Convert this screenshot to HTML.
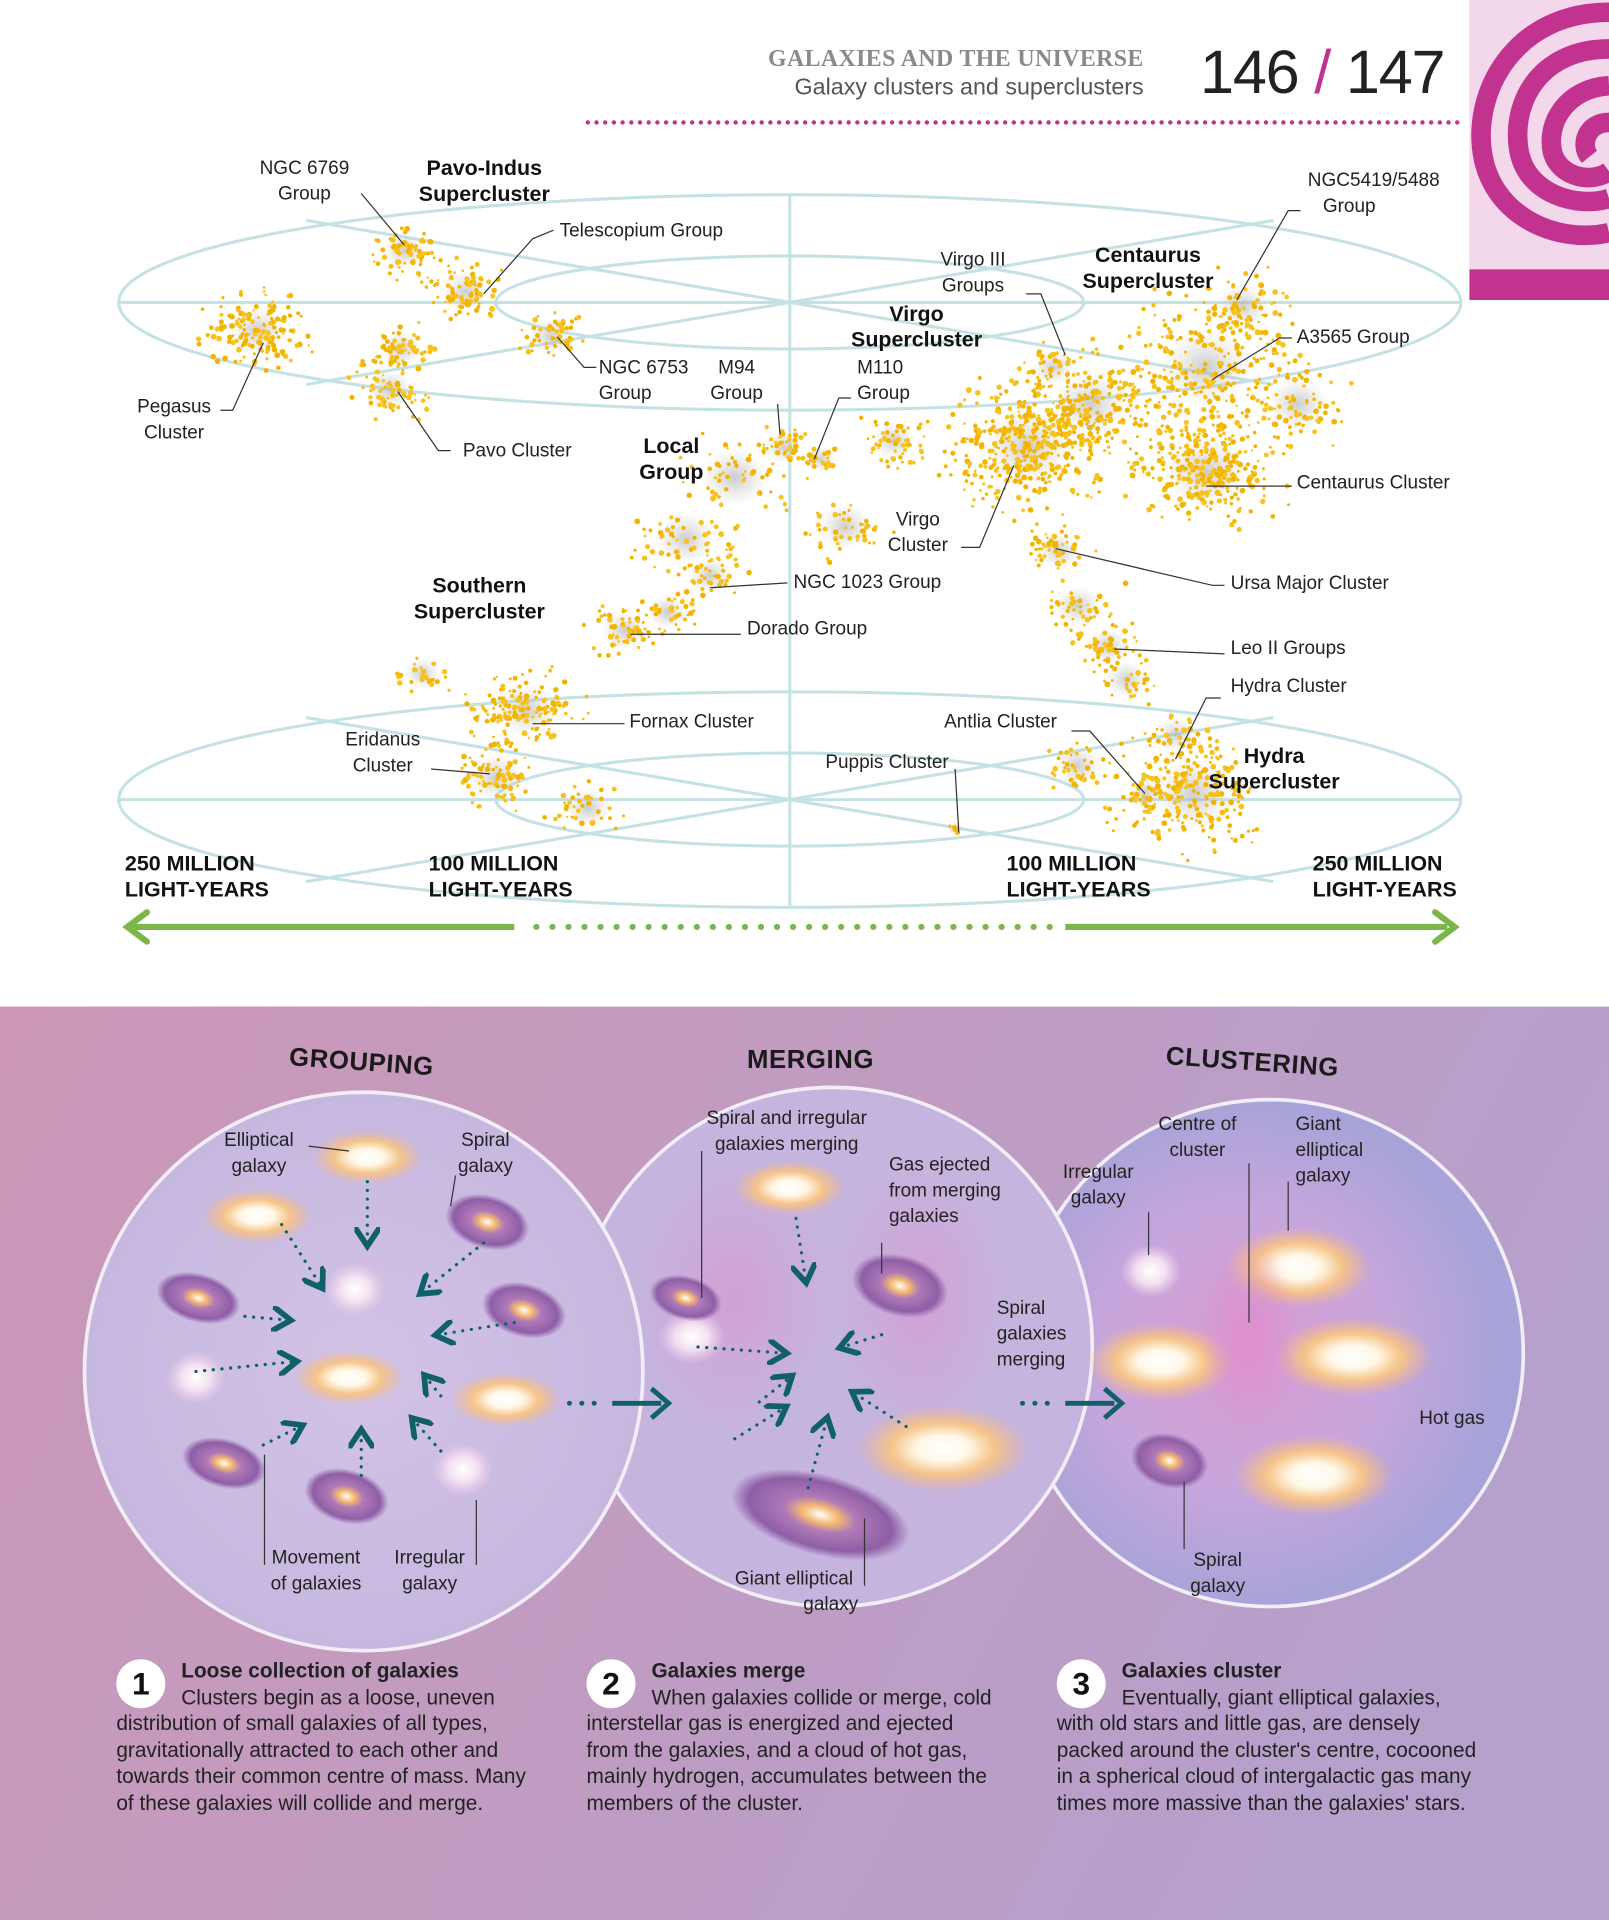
<!DOCTYPE html>
<html><head><meta charset="utf-8">
<style>
html,body{margin:0;padding:0;background:#fff;}
body{width:1609px;height:1920px;overflow:hidden;}
#wrap{position:absolute;left:0;top:0;width:1314px;height:1568px;transform:scale(1.22451);transform-origin:0 0;font-family:"Liberation Sans",sans-serif;color:#222;}
.l{position:absolute;font-size:15.5px;line-height:21px;color:#222;white-space:nowrap;}
.b{position:absolute;font-size:17.5px;line-height:21px;font-weight:bold;color:#111;white-space:nowrap;text-align:center;}
.c{text-align:center;}
.h{position:absolute;font-weight:bold;font-size:21px;letter-spacing:0.5px;color:#1a1a1a;}
.tb{position:absolute;font-size:17px;line-height:21.5px;color:#222;white-space:nowrap;}
.num{position:absolute;width:40px;height:40px;border-radius:50%;background:#fff;font-weight:bold;font-size:26px;text-align:center;line-height:40px;color:#111;}
</style></head>
<body>
<div id="wrap">
<svg id="bg" width="1314" height="1568" style="position:absolute;left:0;top:0">
<defs>
<linearGradient id="pb" x1="0" y1="0" x2="1" y2="0.3"><stop offset="0" stop-color="#cc97b6"/><stop offset="1" stop-color="#b6a0cc"/></linearGradient>
<radialGradient id="circ" cx="0.5" cy="0.5" r="0.5"><stop offset="0" stop-color="#d3c3e6"/><stop offset="1" stop-color="#c6b7df"/></radialGradient>
<radialGradient id="circ3" cx="0.45" cy="0.5" r="0.5"><stop offset="0" stop-color="#d99ad0"/><stop offset="0.55" stop-color="#c7a6dc"/><stop offset="1" stop-color="#a7a3d8"/></radialGradient>
<radialGradient id="ell" cx="0.5" cy="0.5" r="0.5"><stop offset="0" stop-color="#fff"/><stop offset="0.3" stop-color="#fff8e8"/><stop offset="0.6" stop-color="#f6c58a"/><stop offset="1" stop-color="#f2b88a" stop-opacity="0"/></radialGradient>
<radialGradient id="spi" cx="0.5" cy="0.5" r="0.5"><stop offset="0" stop-color="#fff"/><stop offset="0.2" stop-color="#f5b870"/><stop offset="0.4" stop-color="#b07ab8"/><stop offset="0.8" stop-color="#8e5ea6"/><stop offset="1" stop-color="#8e5ea6" stop-opacity="0"/></radialGradient>
<radialGradient id="irr" cx="0.5" cy="0.5" r="0.5"><stop offset="0" stop-color="#fff"/><stop offset="0.5" stop-color="#f3dff0"/><stop offset="1" stop-color="#e7c8e8" stop-opacity="0"/></radialGradient>
<radialGradient id="glow" cx="0.5" cy="0.5" r="0.5"><stop offset="0" stop-color="#aaa" stop-opacity="0.6"/><stop offset="1" stop-color="#ccc" stop-opacity="0"/></radialGradient>
<radialGradient id="pinkcloud" cx="0.5" cy="0.5" r="0.5"><stop offset="0" stop-color="#e08ccc" stop-opacity="0.8"/><stop offset="1" stop-color="#e08ccc" stop-opacity="0"/></radialGradient>
<marker id="ah" markerWidth="8" markerHeight="8" refX="5" refY="4" orient="auto"><path d="M0,0 L6,4 L0,8" fill="none" stroke="#0f6069" stroke-width="1.8"/></marker>
</defs>
<rect x="1200" y="0" width="114" height="222" fill="#f2d8ea"/>
<rect x="1200" y="220" width="114" height="25" fill="#c2338f"/>
<path d="M1314,10 C1240,10 1205,70 1210,120 C1215,175 1270,200 1314,190 M1314,40 C1260,40 1235,80 1240,120 C1245,160 1290,170 1314,162 M1314,70 C1280,72 1262,100 1268,125 C1274,145 1300,150 1314,140 M1314,100 C1296,100 1290,118 1298,128" fill="none" stroke="#c2338f" stroke-width="16"/>
<line x1="480" y1="100" x2="1195" y2="100" stroke="#c2338f" stroke-width="3.5" stroke-dasharray="0.1 7" stroke-linecap="round"/>
<g fill="none" stroke="#c4e2e4" stroke-width="2.5">
<ellipse cx="645" cy="247" rx="548" ry="88"/>
<ellipse cx="645" cy="247" rx="240" ry="38"/>
<line x1="97" y1="247" x2="1193" y2="247"/>
<line x1="250" y1="180" x2="1040" y2="314"/><line x1="250" y1="314" x2="1040" y2="180"/>
<ellipse cx="645" cy="653" rx="548" ry="88"/>
<ellipse cx="645" cy="653" rx="240" ry="38"/>
<line x1="97" y1="653" x2="1193" y2="653"/>
<line x1="250" y1="586" x2="1040" y2="720"/><line x1="250" y1="720" x2="1040" y2="586"/>
<line x1="645" y1="159" x2="645" y2="741"/>
</g>
<g id="dots"></g>
<g fill="none" stroke="#333" stroke-width="1">
<polyline points="295,158 305,170 330,200"/><polyline points="452,188 435,195 395,240"/>
<polyline points="180,335 190,335 215,280"/><polyline points="368,368 358,368 325,320"/>
<polyline points="487,300 477,300 455,275"/><polyline points="635,330 637,355"/><polyline points="695,325 685,325 665,375"/>
<polyline points="838,240 850,240 870,290"/><polyline points="1062,172 1052,172 1010,245"/><polyline points="1055,276 1045,276 990,310"/>
<polyline points="1055,397 985,397"/><polyline points="785,447 800,447 828,380"/><polyline points="1000,478 990,478 862,448"/>
<polyline points="643,476 580,480"/><polyline points="605,518 515,518"/><polyline points="1000,534 910,530"/>
<polyline points="997,570 985,570 960,620"/><polyline points="875,597 890,597 935,648"/><polyline points="510,591 435,591"/>
<polyline points="352,628 400,632"/><polyline points="780,628 783,680"/>
<polyline points="802,1080 760,1080"/><polyline points="1125,1162 1150,1162"/>
</g>
<g>
<line x1="108" y1="757" x2="420" y2="757" stroke="#7ab648" stroke-width="5"/>
<line x1="870" y1="757" x2="1182" y2="757" stroke="#7ab648" stroke-width="5"/>
<line x1="438" y1="757" x2="860" y2="757" stroke="#7ab648" stroke-width="5" stroke-dasharray="0.1 13" stroke-linecap="round"/>
<path d="M120,745 L104,757 L120,769" fill="none" stroke="#7ab648" stroke-width="5" stroke-linecap="round"/>
<path d="M1172,745 L1188,757 L1172,769" fill="none" stroke="#7ab648" stroke-width="5" stroke-linecap="round"/>
</g>
<rect x="0" y="822" width="1314" height="746" fill="url(#pb)"/>
<circle cx="1037" cy="1105" r="207" fill="url(#circ3)" stroke="#f2edf7" stroke-width="3"/>
<circle cx="680" cy="1100" r="212" fill="#c5b4de" stroke="#f2edf7" stroke-width="3"/>
<ellipse cx="600" cy="1060" rx="80" ry="110" fill="url(#pinkcloud)" opacity="0.6"/>
<ellipse cx="750" cy="1060" rx="70" ry="110" fill="url(#pinkcloud)" opacity="0.6"/>
<circle cx="297" cy="1120" r="228" fill="url(#circ)" stroke="#f2edf7" stroke-width="3"/>
<g id="gals"></g>
<g stroke="#0f6069" stroke-width="4" fill="none">
<line x1="465" y1="1146" x2="495" y2="1146" stroke-dasharray="0.1 10" stroke-linecap="round"/>
<line x1="500" y1="1146" x2="540" y2="1146"/><path d="M532,1134 L546,1146 L532,1158"/>
<line x1="835" y1="1146" x2="865" y2="1146" stroke-dasharray="0.1 10" stroke-linecap="round"/>
<line x1="870" y1="1146" x2="910" y2="1146"/><path d="M902,1134 L916,1146 L902,1158"/>
</g>
<g id="arrows" stroke="#0f6069" stroke-width="2.6" fill="none" stroke-dasharray="0.1 7" stroke-linecap="round"></g>
<g fill="none" stroke="#333" stroke-width="1">
<polyline points="252,936 285,940"/><polyline points="372,960 368,985"/>
<polyline points="216,1278 216,1188"/><polyline points="389,1278 389,1225"/>
<polyline points="573,940 573,1060"/><polyline points="720,1015 720,1040"/>
<polyline points="706,1295 706,1240"/><polyline points="938,990 938,1025"/>
<polyline points="1020,950 1020,1080"/><polyline points="1052,965 1052,1005"/><polyline points="967,1265 967,1210"/>
</g>
</svg>

<div style="position:absolute;right:380px;top:38px;text-align:right;font-family:'Liberation Serif',serif;">
<div style="font-weight:bold;font-size:19.5px;color:#8a8a8a;letter-spacing:0.3px">GALAXIES AND THE UNIVERSE</div>
<div style="font-size:19px;color:#555;font-family:'Liberation Sans',sans-serif;margin-top:1px">Galaxy clusters and superclusters</div>
</div>
<div style="position:absolute;left:980px;top:30px;font-size:50px;color:#222;letter-spacing:-1px">146 <span style="color:#c2338f">/</span> 147</div>

<div class="l c" style="left:212px;top:127px">NGC 6769<br>Group</div>
<div class="b" style="left:342px;top:127px">Pavo-Indus<br>Supercluster</div>
<div class="l" style="left:457px;top:178px">Telescopium Group</div>
<div class="l c" style="left:112px;top:322px">Pegasus<br>Cluster</div>
<div class="l" style="left:378px;top:358px">Pavo Cluster</div>
<div class="l" style="left:489px;top:290px">NGC 6753<br>Group</div>
<div class="l c" style="left:580px;top:290px">M94<br>Group</div>
<div class="l" style="left:700px;top:290px">M110<br>Group</div>
<div class="b" style="left:522px;top:354px">Local<br>Group</div>
<div class="l c" style="left:768px;top:202px">Virgo III<br>Groups</div>
<div class="b" style="left:695px;top:246px">Virgo<br>Supercluster</div>
<div class="b" style="left:884px;top:198px">Centaurus<br>Supercluster</div>
<div class="l c" style="left:1068px;top:137px">NGC5419/5488<br><span style="margin-right:40px">Group</span></div>
<div class="l" style="left:1059px;top:265px">A3565 Group</div>
<div class="l" style="left:1059px;top:384px">Centaurus Cluster</div>
<div class="l c" style="left:725px;top:414px">Virgo<br>Cluster</div>
<div class="l" style="left:1005px;top:466px">Ursa Major Cluster</div>
<div class="l" style="left:648px;top:465px">NGC 1023 Group</div>
<div class="b" style="left:338px;top:468px">Southern<br>Supercluster</div>
<div class="l" style="left:610px;top:503px">Dorado Group</div>
<div class="l" style="left:1005px;top:519px">Leo II Groups</div>
<div class="l" style="left:1005px;top:550px">Hydra Cluster</div>
<div class="l" style="left:514px;top:579px">Fornax Cluster</div>
<div class="l" style="left:771px;top:579px">Antlia Cluster</div>
<div class="l c" style="left:282px;top:594px">Eridanus<br>Cluster</div>
<div class="l" style="left:674px;top:612px">Puppis Cluster</div>
<div class="b" style="left:987px;top:607px">Hydra<br>Supercluster</div>
<div class="b" style="left:102px;top:695px;text-align:left">250 MILLION<br>LIGHT-YEARS</div>
<div class="b" style="left:350px;top:695px;text-align:left">100 MILLION<br>LIGHT-YEARS</div>
<div class="b" style="left:822px;top:695px;text-align:left">100 MILLION<br>LIGHT-YEARS</div>
<div class="b" style="left:1072px;top:695px;text-align:left">250 MILLION<br>LIGHT-YEARS</div>

<div class="h" style="left:236px;top:856px;transform:rotate(4deg)">GROUPING</div>
<div class="h" style="left:610px;top:854px">MERGING</div>
<div class="h" style="left:952px;top:856px;transform:rotate(4deg)">CLUSTERING</div>

<div class="l c" style="left:183px;top:921px">Elliptical<br>galaxy</div>
<div class="l c" style="left:374px;top:921px">Spiral<br>galaxy</div>
<div class="l c" style="left:221px;top:1262px">Movement<br>of galaxies</div>
<div class="l c" style="left:322px;top:1262px">Irregular<br>galaxy</div>
<div class="l c" style="left:577px;top:903px">Spiral and irregular<br>galaxies merging</div>
<div class="l" style="left:726px;top:941px">Gas ejected<br>from merging<br>galaxies</div>
<div class="l" style="left:814px;top:1058px">Spiral<br>galaxies<br>merging</div>
<div class="l c" style="left:596px;top:1279px">Giant elliptical<br><span style="margin-left:60px">galaxy</span></div>
<div class="l c" style="left:946px;top:908px">Centre of<br>cluster</div>
<div class="l" style="left:1058px;top:908px">Giant<br>elliptical<br>galaxy</div>
<div class="l c" style="left:868px;top:947px">Irregular<br>galaxy</div>
<div class="l" style="left:1159px;top:1148px">Hot gas</div>
<div class="l c" style="left:972px;top:1264px">Spiral<br>galaxy</div>

<div class="num" style="left:95px;top:1355px">1</div>
<div class="tb" style="left:95px;top:1354px"><span style="padding-left:53px"><b>Loose collection of galaxies</b></span><br><span style="padding-left:53px">Clusters begin as a loose, uneven</span><br>distribution of small galaxies of all types,<br>gravitationally attracted to each other and<br>towards their common centre of mass. Many<br>of these galaxies will collide and merge.</div>
<div class="num" style="left:479px;top:1355px">2</div>
<div class="tb" style="left:479px;top:1354px"><span style="padding-left:53px"><b>Galaxies merge</b></span><br><span style="padding-left:53px">When galaxies collide or merge, cold</span><br>interstellar gas is energized and ejected<br>from the galaxies, and a cloud of hot gas,<br>mainly hydrogen, accumulates between the<br>members of the cluster.</div>
<div class="num" style="left:863px;top:1355px">3</div>
<div class="tb" style="left:863px;top:1354px"><span style="padding-left:53px"><b>Galaxies cluster</b></span><br><span style="padding-left:53px">Eventually, giant elliptical galaxies,</span><br>with old stars and little gas, are densely<br>packed around the cluster's centre, cocooned<br>in a spherical cloud of intergalactic gas many<br>times more massive than the galaxies' stars.</div>
</div>

<script>
const clusterNames=["pegasus","ngc6769","telescopium","pavo-a","pavo","ngc6753","m94","m110","local-a","local-b","local-c","virgo-e","virgo","virgo-w","virgo3","centaurus","a3565","ngc5419","cent-e","ursa","ursa-s","leo2","leo2-s","ngc1023","bridge","dorado","southern","fornax","eridanus","hydra","antlia","hydra-n","hydra-w","puppis","fornax-s"];
const clusterX=[210,330,380,328,318,450,640,670,600,560,690,730,840,890,860,985,985,1015,1060,865,880,905,920,580,545,510,345,430,405,975,935,960,880,780,480];
const clusterY=[270,205,238,285,318,275,365,375,390,440,430,360,365,330,300,385,300,250,330,450,495,528,555,470,500,515,550,580,635,648,648,600,625,677,660];
const clusterSpread=[32,22,25,20,25,22,18,14,40,35,30,22,55,45,20,50,55,30,35,22,25,22,22,22,20,25,18,35,30,50,18,20,25,4,25];
const clusterCount=[150,70,80,60,70,55,40,25,50,50,45,60,400,200,30,300,220,80,70,55,40,55,35,45,30,60,25,160,80,220,40,30,40,8,35];

let seed=7;function rnd(){seed=(seed*16807)%2147483647;return (seed-1)/2147483646;}
function gauss(){return (rnd()+rnd()+rnd()-1.5)/1.5*1.7;}
const NS="http://www.w3.org/2000/svg";
const dots=document.getElementById('dots');


for(let i=0;i<clusterX.length;i++){
  const sx=clusterSpread[i];
  const g=document.createElementNS(NS,'ellipse');
  g.setAttribute('cx',clusterX[i]);g.setAttribute('cy',clusterY[i]);
  g.setAttribute('rx',sx*0.6+4);g.setAttribute('ry',sx*0.5+4);g.setAttribute('fill','url(#glow)');
  
  
  dots.appendChild(g);
  for(let k=0;k<clusterCount[i];k++){
    const c=document.createElementNS(NS,'circle');
    c.setAttribute('cx',(clusterX[i]+gauss()*sx*1.0).toFixed(1));
    c.setAttribute('cy',(clusterY[i]+gauss()*sx*0.75).toFixed(1));
    c.setAttribute('r',(1+rnd()*1.4).toFixed(1));
    c.setAttribute('fill',rnd()<0.5?'#f7c21c':'#f3b400');
    
    
    dots.appendChild(c);
  }
}
const galType=["e","e","s","i","s","e","s","i","e","s","s","i","e","i","s","s","e","s","e","e","e","e","i","e","s"];
const galX=[300,210,398,290,162,285,428,160,413,183,283,378,645,565,560,735,770,670,1060,948,1105,1073,940,1020,955];
const galY=[945,993,998,1053,1060,1125,1070,1125,1143,1195,1222,1200,970,1092,1060,1050,1183,1237,1035,1112,1108,1205,1038,1090,1193];
const galRX=[45,45,35,25,35,45,35,25,45,35,35,25,45,28,30,40,70,75,60,60,65,65,25,40,32];
const galRY=[22,22,22,22,20,22,22,22,22,20,22,22,22,22,18,25,35,33,33,32,32,33,22,80,22];
const gals=document.getElementById('gals');
for(let i=0;i<galType.length;i++){
  const e=document.createElementNS(NS,'ellipse');
  e.setAttribute('cx',galX[i]);e.setAttribute('cy',galY[i]);
  e.setAttribute('rx',galRX[i]);e.setAttribute('ry',galRY[i]);
  const t=galType[i];
  if(i===23){e.setAttribute('fill','url(#pinkcloud)');}
  else e.setAttribute('fill',t==='e'?'url(#ell)':t==='s'?'url(#spi)':'url(#irr)');
  if(t==='s'){e.setAttribute('transform','rotate(15 '+galX[i]+' '+galY[i]+')');}
  
  
  gals.appendChild(e);
}
const arrX1=[300,230,395,200,160,420,360,215,295,360,650,570,600,720,660,620,740];
const arrY1=[965,1000,1015,1075,1120,1080,1140,1180,1205,1185,995,1100,1175,1090,1215,1145,1165];
const arrX2=[300,262,345,235,240,358,348,245,295,338,658,640,640,688,675,645,698];
const arrY2=[1015,1050,1055,1078,1112,1090,1125,1165,1170,1160,1045,1105,1150,1100,1160,1125,1138];
const arrows=document.getElementById('arrows');
for(let i=0;i<arrX1.length;i++){
  const l=document.createElementNS(NS,'line');
  l.setAttribute('x1',arrX1[i]);l.setAttribute('y1',arrY1[i]);
  l.setAttribute('x2',arrX2[i]);l.setAttribute('y2',arrY2[i]);
  l.setAttribute('marker-end','url(#ah)');
  
  
  arrows.appendChild(l);
}
</script>
</body></html>
